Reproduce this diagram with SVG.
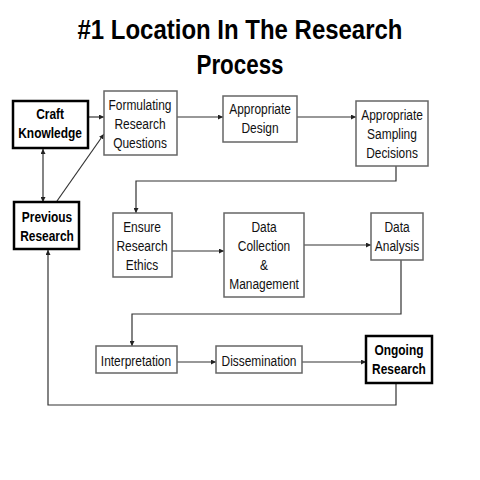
<svg xmlns="http://www.w3.org/2000/svg" width="480" height="480" viewBox="0 0 480 480">
<style>
  .box { fill: #fff; stroke: #666; stroke-width: 1.5; }
  .bold { fill: #fff; stroke: #000; stroke-width: 2.5; }
  text { font-family: "Liberation Sans", Arial, sans-serif; font-size: 15.3px; fill: #111; text-anchor: middle; transform-box: fill-box; transform-origin: center; transform: scaleX(0.78); }
  .b { font-weight: bold; fill: #000; }
  .title { font-weight: bold; font-size: 27px; fill: #000; transform: none; }
  .ln { fill: none; stroke: #333; stroke-width: 1.2; }
</style>
<defs>
  <marker id="ah" viewBox="0 0 6 6" refX="6" refY="3" markerWidth="5" markerHeight="5" markerUnits="userSpaceOnUse" orient="auto-start-reverse">
    <path d="M0,0 L6,3 L0,6 Z" fill="#222"/>
  </marker>
</defs>
<rect width="480" height="480" fill="#fff"/>
<g id="title">
  <text class="title" x="240" y="39" textLength="325" lengthAdjust="spacingAndGlyphs">#1 Location In The Research</text>
  <text class="title" x="240" y="74" textLength="87" lengthAdjust="spacingAndGlyphs">Process</text>
</g>
<g id="connectors">
  <line class="ln" x1="88" y1="117" x2="104" y2="117" marker-end="url(#ah)"/>
  <line class="ln" x1="177" y1="117" x2="223" y2="117" marker-end="url(#ah)"/>
  <line class="ln" x1="297" y1="117" x2="356" y2="117" marker-end="url(#ah)"/>
  <line class="ln" x1="43" y1="149" x2="43" y2="202" marker-start="url(#ah)" marker-end="url(#ah)"/>
  <line class="ln" x1="57" y1="201" x2="104" y2="134" marker-end="url(#ah)"/>
  <polyline class="ln" points="396,166 396,181 136,181 136,213" marker-end="url(#ah)"/>
  <line class="ln" x1="172" y1="251" x2="224" y2="251" marker-end="url(#ah)"/>
  <line class="ln" x1="304" y1="245" x2="371" y2="245" marker-end="url(#ah)"/>
  <polyline class="ln" points="401,260 401,314 132,314 132,346" marker-end="url(#ah)"/>
  <line class="ln" x1="177" y1="362" x2="216" y2="362" marker-end="url(#ah)"/>
  <line class="ln" x1="302" y1="362" x2="366" y2="362" marker-end="url(#ah)"/>
  <polyline class="ln" points="396,383 396,405 48,405 48,250" marker-end="url(#ah)"/>
</g>
<g id="craft">
  <rect class="bold" x="13" y="101" width="75" height="47"/>
  <text class="b" x="50" y="119">Craft</text>
  <text class="b" x="50" y="138">Knowledge</text>
</g>
<g id="formulating">
  <rect class="box" x="104" y="91" width="73" height="64"/>
  <text x="140" y="110">Formulating</text>
  <text x="140" y="129">Research</text>
  <text x="140" y="148">Questions</text>
</g>
<g id="design">
  <rect class="box" x="223" y="96" width="74" height="46"/>
  <text x="260" y="114">Appropriate</text>
  <text x="260" y="133">Design</text>
</g>
<g id="sampling">
  <rect class="box" x="356" y="101" width="72" height="65"/>
  <text x="392" y="120">Appropriate</text>
  <text x="392" y="139">Sampling</text>
  <text x="392" y="158">Decisions</text>
</g>
<g id="previous">
  <rect class="bold" x="14" y="202" width="65" height="47"/>
  <text class="b" x="47" y="222">Previous</text>
  <text class="b" x="47" y="241">Research</text>
</g>
<g id="ethics">
  <rect class="box" x="113" y="213" width="59" height="64"/>
  <text x="142" y="232">Ensure</text>
  <text x="142" y="251">Research</text>
  <text x="142" y="270">Ethics</text>
</g>
<g id="collection">
  <rect class="box" x="224" y="213" width="80" height="84"/>
  <text x="264" y="232">Data</text>
  <text x="264" y="251">Collection</text>
  <text x="264" y="270">&amp;</text>
  <text x="264" y="289">Management</text>
</g>
<g id="analysis">
  <rect class="box" x="371" y="213" width="52" height="47"/>
  <text x="397" y="232">Data</text>
  <text x="397" y="251">Analysis</text>
</g>
<g id="interpretation">
  <rect class="box" x="96" y="346" width="81" height="27"/>
  <text x="136" y="366">Interpretation</text>
</g>
<g id="dissemination">
  <rect class="box" x="216" y="346" width="86" height="27"/>
  <text x="259" y="366">Dissemination</text>
</g>
<g id="ongoing">
  <rect class="bold" x="366" y="336" width="66" height="47"/>
  <text class="b" x="399" y="355">Ongoing</text>
  <text class="b" x="399" y="374">Research</text>
</g>
</svg>
